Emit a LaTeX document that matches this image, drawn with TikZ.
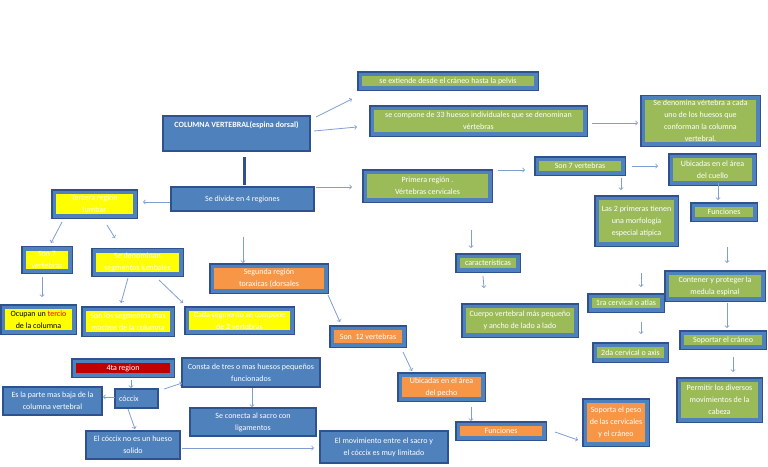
\documentclass[tikz,border=0pt]{standalone}
\usepackage{fontspec}
\setmainfont{Carlito}
\usepackage{tikz}
\usetikzlibrary{calc}

\definecolor{boxblue}{HTML}{4F81BD}
\definecolor{boxedge}{HTML}{2F528F}
\definecolor{leaf}{HTML}{9BBB59}
\definecolor{peach}{HTML}{F79646}
\definecolor{lemon}{HTML}{FFFF00}
\definecolor{blood}{HTML}{C00000}
\definecolor{arrowblue}{HTML}{7F9FD2}

\begin{document}
\begin{tikzpicture}[x=1pt, y=-1pt,
    sz/.style 2 args={minimum width=#1pt, minimum height=#2pt},
    bluebox/.style={fill=boxblue, draw=boxedge, line width=1.5pt, text=white,
        align=center, inner sep=1pt, font=\fontsize{8}{12}\selectfont},
    inbox/.style={fill=#1, text=white, align=center, inner sep=0.5pt,
        font=\fontsize{8}{12}\selectfont,
        preaction={draw=boxedge, line width=10pt},
        preaction={draw=boxblue, line width=7pt}},
    arr/.style={->, draw=arrowblue, line width=0.8pt}]

    \useasboundingbox[fill=white] (0,0) rectangle (768,466);

    % main boxes
    \node[bluebox, sz={147}{35}, text height=9pt, text depth=22pt, inner ysep=2pt,
        font=\fontsize{8}{12}\selectfont\bfseries] (col) at (236.5,133.5) {COLUMNA VERTEBRAL(espina dorsal)};
    \node[bluebox, sz={143}{24}] (divide) at (242.5,199) {Se divide en 4 regiones};

    \node[inbox=leaf, sz={172}{10}] (ext) at (448,81) {se extiende desde el cráneo hasta la pelvis};
    \node[inbox=leaf, sz={209}{22}] (comp) at (478.5,121) {se compone de 33 huesos individuales que se denominan\\vértebras};
    \node[inbox=leaf, sz={111}{42}] (denom) at (700.5,121) {Se denomina vértebra a cada\\uno de los huesos que\\conforman la columna\\vertebral.};

    % primera region
    \node[inbox=leaf, sz={121}{24}] (prim) at (427.5,186) {Primera región .\\Vértebras cervicales};
    \node[inbox=leaf, sz={82}{10}] (son7c) at (580,166) {Son 7 vertebras};
    \node[inbox=leaf, sz={79}{23}] (ubicc) at (712.5,169.5) {Ubicadas en el área\\del cuello};
    \node[inbox=leaf, sz={75}{42}] (las2) at (636.5,221) {Las 2 primeras tienen\\una morfología\\especial atípica};
    \node[inbox=leaf, sz={58}{10}] (func1) at (724,212) {Funciones};
    \node[inbox=leaf, sz={56}{10}] (car) at (488,263) {características};
    \node[inbox=leaf, sz={108}{25}] (cuerpo) at (520,320.5) {Cuerpo vertebral más pequeño\\y ancho de lado a lado};
    \node[inbox=leaf, sz={92}{22}] (cont) at (715,286) {Contener y proteger la\\medula espinal};
    \node[inbox=leaf, sz={68}{10}] (atlas) at (626,303) {1ra cervical o atlas};
    \node[inbox=leaf, sz={67}{11}] (axis) at (630.5,352.5) {2da cervical o axis};
    \node[inbox=leaf, sz={78}{10}] (sopcr) at (723,340) {Soportar el cráneo};
    \node[inbox=leaf, sz={77}{36}] (perm) at (719.5,400) {Permitir los diversos\\movimientos de la\\cabeza};

    % segunda region
    \node[inbox=peach, sz={110}{21}] (segunda) at (269,278.5) {Segunda región\\toraxicas (dorsales};
    \node[inbox=peach, sz={68}{13}] (son12) at (368,336.5) {Son\ \ 12 vertebras};
    \node[inbox=peach, sz={79}{20}] (ubicp) at (441.5,387) {Ubicadas en el área\\del pecho};
    \node[inbox=peach, sz={82}{10}] (func2) at (501,431) {Funciones};
    \node[inbox=peach, sz={58}{39}] (sopeso) at (616,422.5) {Soporta el peso\\de las cervicales\\y el cráneo};

    % tercera region
    \node[inbox=lemon, sz={77}{20}] (tercera) at (94.5,204) {Tercera region\\lumbar};
    \node[inbox=lemon, sz={42}{18}] (son7l) at (47,260) {Son 7\\vertebras};
    \node[inbox=lemon, sz={83}{19}] (seden) at (137.5,262.5) {Se denominan\\segmentos lumbales};
    \node[inbox=lemon, sz={67}{21}, text=black] (ocupan) at (38.5,319.5) {Ocupan un {\color{red}tercio}\\de la columna};
    \node[inbox=lemon, sz={84}{21}] (macizos) at (128,321.5) {Son los segmentos mas\\macizos de la columna};
    \node[inbox=lemon, sz={101}{19}] (cada) at (239.5,320.5) {Cada segmento se compone\\de 2 vertebras};

    % cuarta region
    \node[inbox=blood, sz={94}{10}] (cuarta) at (123,368) {4ta region};
    \node[bluebox, sz={138}{29}] (consta) at (251,372.5) {Consta de tres o mas huesos pequeños\\funcionados};
    \node[bluebox, sz={43}{19}, text width=35pt, align=left] (coccix) at (136.5,398.5) {cóccix};
    \node[bluebox, sz={99}{28}] (baja) at (52.5,401) {Es la parte mas baja de la\\columna vertebral};
    \node[bluebox, sz={126}{28}] (conecta) at (253,422) {Se conecta al sacro con\\ligamentos};
    \node[bluebox, sz={94}{28}] (solido) at (133,445) {El cóccix no es un hueso\\solido};
    \node[bluebox, sz={128}{32}] (movim) at (384,447) {El movimiento entre el sacro y\\el cóccix es muy limitado};

    % connectors
    \draw[boxedge, line width=3pt] ($(col.center)+(7.5,23.5)$) -- ($(divide.center)+(1.5,-14)$);
    \draw[arr] ($(col.center)+(79.5,-16.5)$) -- ($(ext.center)+(-96,18)$);
    \draw[arr] ($(col.center)+(77.5,-2.5)$) -- ($(comp.center)+(-121.5,6)$);
    \draw[arr] ($(divide.center)+(73.5,-12)$) -- ($(prim.center)+(-75.5,1)$);
    \draw[arr] ($(prim.center)+(70.5,-16)$) -- ($(son7c.center)+(-55,4)$);
    \draw[arr] ($(comp.center)+(113.5,2)$) -- ($(denom.center)+(-62.5,2)$);
    \draw[arr] ($(son7c.center)+(52,0)$) -- ($(ubicc.center)+(-54.5,-3.5)$);
    \draw[arr] ($(son7c.center)+(41,12)$) -- ($(las2.center)+(-15.5,-31)$);
    \draw[arr] ($(ubicc.center)+(5.5,13.5)$) -- ($(func1.center)+(-6,-12)$);
    \draw[arr] ($(prim.center)+(43.5,44)$) -- ($(car.center)+(-17,-15)$);
    \draw[arr] ($(car.center)+(-5,13)$) -- ($(cuerpo.center)+(-36,-32.5)$);
    \draw[arr] ($(func1.center)+(3,35)$) -- ($(cont.center)+(12,-23)$);
    \draw[arr] ($(las2.center)+(4.5,52)$) -- ($(atlas.center)+(15,-16)$);
    \draw[arr] ($(atlas.center)+(15,19)$) -- ($(axis.center)+(10.5,-18.5)$);
    \draw[arr] ($(cont.center)+(12,17)$) -- ($(sopcr.center)+(4,-12)$);
    \draw[arr] ($(sopcr.center)+(10,17)$) -- ($(perm.center)+(13.5,-28)$);
    \draw[arr] ($(divide.center)+(-72.5,3)$) -- ($(tercera.center)+(48.5,-2)$);
    \draw[arr] ($(tercera.center)+(-32.5,18)$) -- ($(son7l.center)+(4,-17)$);
    \draw[arr] ($(tercera.center)+(12.5,21)$) -- ($(seden.center)+(-22.5,-24.5)$);
    \draw[arr] ($(son7l.center)+(-5,17)$) -- ($(ocupan.center)+(3.5,-22.5)$);
    \draw[arr] ($(seden.center)+(-9.5,15.5)$) -- ($(macizos.center)+(-7,-18.5)$);
    \draw[arr] ($(seden.center)+(21.5,17.5)$) -- ($(cada.center)+(-56.5,-17.5)$);
    \draw[arr] ($(divide.center)+(0.5,38)$) -- ($(segunda.center)+(-26,-15.5)$);
    \draw[arr] ($(segunda.center)+(59,16.5)$) -- ($(son12.center)+(-28,-14.5)$);
    \draw[arr] ($(son12.center)+(35,15.5)$) -- ($(ubicp.center)+(-29.5,-16)$);
    \draw[arr] ($(ubicp.center)+(29.5,20)$) -- ($(func2.center)+(-30,-10)$);
    \draw[arr] ($(func2.center)+(54,1)$) -- ($(sopeso.center)+(-38,17.5)$);
    \draw[arr] ($(cuarta.center)+(8,12)$) -- ($(coccix.center)+(-5.5,-10.5)$);
    \draw[arr] ($(coccix.center)+(-21.5,-1.5)$) -- ($(baja.center)+(50.5,-4)$);
    \draw[arr] ($(coccix.center)+(27.5,-9.5)$) -- ($(consta.center)+(-69,10.5)$);
    \draw[arr] ($(consta.center)+(1,15.5)$) -- ($(conecta.center)+(-1,-15)$);
    \draw[arr] ($(coccix.center)+(-8.5,10.5)$) -- ($(solido.center)+(2,-16)$);
    \draw[arr] ($(solido.center)+(49,3)$) -- ($(movim.center)+(-70,1)$);

\end{tikzpicture}
\end{document}
